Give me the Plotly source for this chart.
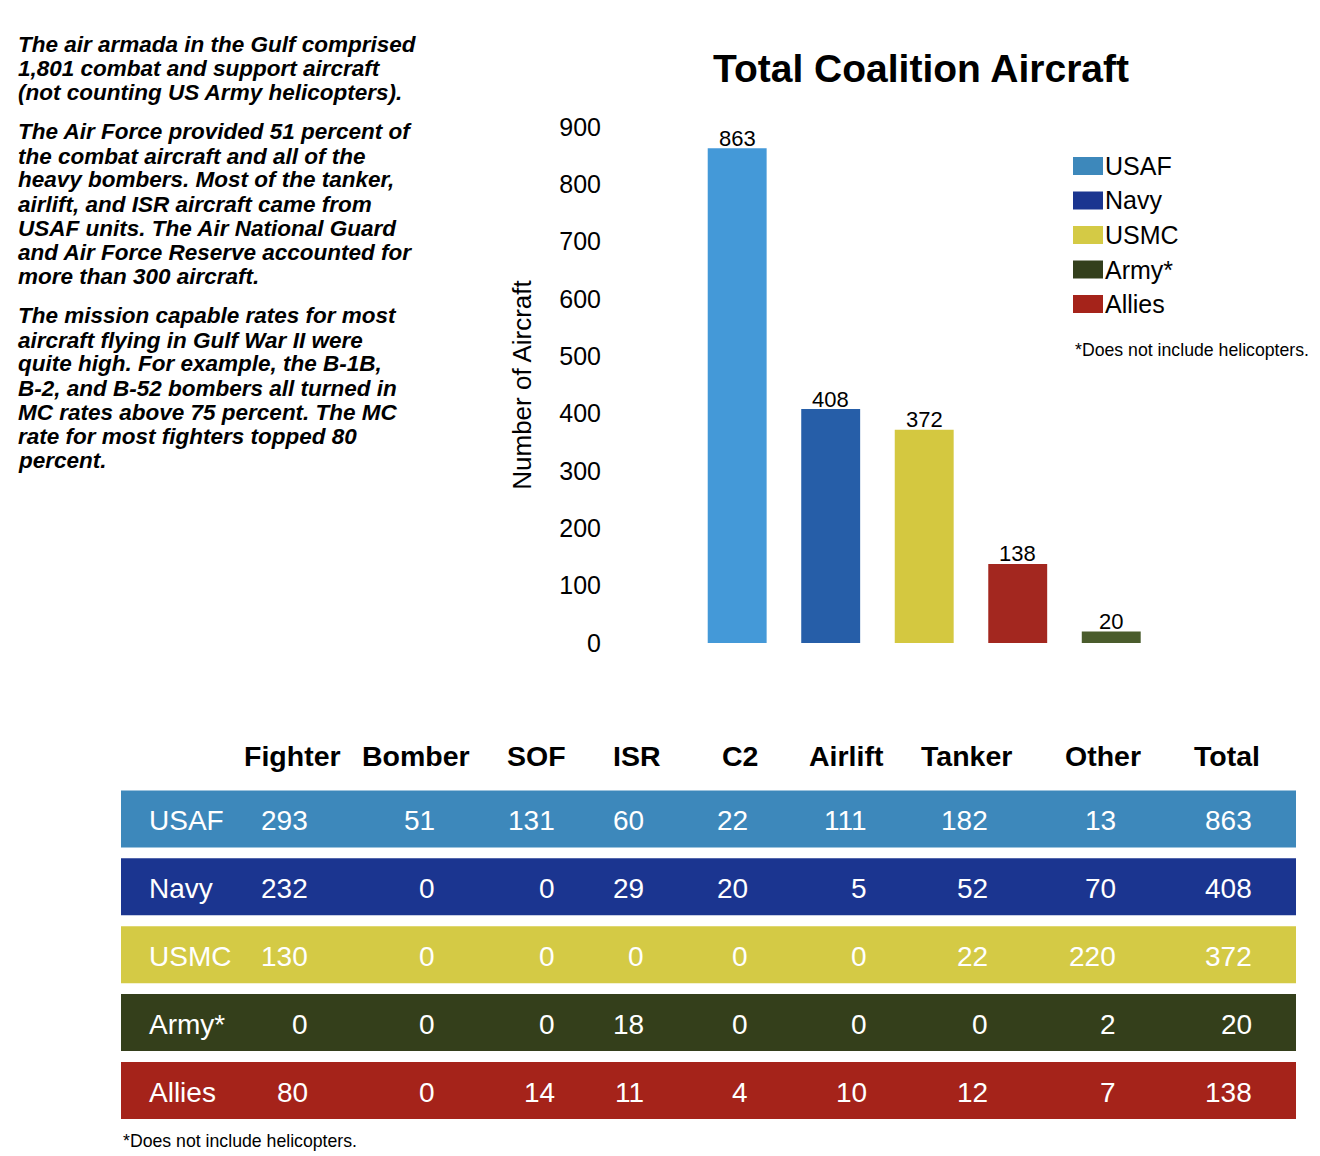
import plotly.graph_objects as go

W, H = 1320, 1156
FONT = "Liberation Sans, Arial, Helvetica, sans-serif"

# ---------------- Data ----------------
bar_services = ["USAF", "Navy", "USMC", "Allies", "Army*"]
bar_totals = [863, 408, 372, 138, 20]
bar_colors = ["#4499d8", "#265ea8", "#d4c840", "#a3271f", "#4a5c2c"]

y_ticks = [0, 100, 200, 300, 400, 500, 600, 700, 800, 900]

legend_labels = ["USAF", "Navy", "USMC", "Army*", "Allies"]
legend_colors = ["#3d88bb", "#1b3590", "#d4ca45", "#333f1c", "#a5231a"]

table_columns = ["Fighter", "Bomber", "SOF", "ISR", "C2", "Airlift", "Tanker", "Other", "Total"]
table_rows = ["USAF", "Navy", "USMC", "Army*", "Allies"]
usaf_counts = [293, 51, 131, 60, 22, 111, 182, 13, 863]
navy_counts = [232, 0, 0, 29, 20, 5, 52, 70, 408]
usmc_counts = [130, 0, 0, 0, 0, 0, 22, 220, 372]
army_counts = [0, 0, 0, 18, 0, 0, 0, 2, 20]
allies_counts = [80, 0, 14, 11, 4, 10, 12, 7, 138]
row_colors = ["#3d88bb", "#1b3590", "#d4ca45", "#343f1b", "#a5231a"]

chart_title = "Total Coalition Aircraft"
y_title = "Number of Aircraft"
footnote = "*Does not include helicopters."

paragraphs = [
    ["The air armada in the Gulf comprised",
     "1,801 combat and support aircraft",
     "(not counting US Army helicopters)."],
    ["The Air Force provided 51 percent of",
     "the combat aircraft and all of the",
     "heavy bombers. Most of the tanker,",
     "airlift, and ISR aircraft came from",
     "USAF units. The Air National Guard",
     "and Air Force Reserve accounted for",
     "more than 300 aircraft."],
    ["The mission capable rates for most",
     "aircraft flying in Gulf War II were",
     "quite high. For example, the B-1B,",
     "B-2, and B-52 bombers all turned in",
     "MC rates above 75 percent. The MC",
     "rate for most fighters topped 80",
     "percent."],
]

# ---------------- Layout helpers ----------------
def px(x):
    return x / W

def py(y):
    return 1 - y / H

table_left, table_right = 121, 1296
tw = table_right - table_left
col_right_px = [309, 436, 556, 645, 749, 868, 989, 1117, 1253]
col_head_px = [292, 416, 536, 637, 740, 846, 966, 1103, 1227]

fig = go.Figure()

# Bar chart
fig.add_trace(go.Bar(
    x=bar_services, y=bar_totals,
    marker=dict(color=bar_colors, line=dict(width=0)),
    cliponaxis=False, showlegend=False, width=0.63,
    xaxis="x", yaxis="y",
))

# Table row backgrounds
fig.add_trace(go.Bar(
    x=[1] * len(table_rows), y=list(range(len(table_rows))), orientation="h",
    marker=dict(color=row_colors, line=dict(width=0)),
    width=0.84, showlegend=False, hoverinfo="skip",
    xaxis="x2", yaxis="y2",
))

fig.update_layout(
    template="none",
    width=W, height=H, autosize=False,
    margin=dict(l=0, r=0, t=0, b=0, pad=0),
    paper_bgcolor="white", plot_bgcolor="white",
    font=dict(family=FONT, color="black"),
    showlegend=False,
    xaxis=dict(domain=[px(610), px(1158)], range=[-1.36, 4.5], showticklabels=False,
               showgrid=False, zeroline=False, showline=False, ticks="", automargin=False,
               categoryorder="array", categoryarray=bar_services),
    yaxis=dict(domain=[py(643), py(127)], range=[0, 900], tickvals=y_ticks,
               showgrid=False, zeroline=False, showline=False, ticks="", automargin=False,
               ticklabelstandoff=8,
               tickfont=dict(size=25, family=FONT, color="black"),
               title=dict(text=y_title, font=dict(size=26, family=FONT, color="black"),
                          standoff=20)),
    xaxis2=dict(domain=[px(table_left), px(table_right)], range=[0, 1], visible=False,
                anchor="y2", automargin=False),
    yaxis2=dict(domain=[py(1124.4), py(785)], range=[4.5, -0.5], visible=False,
                anchor="x2", automargin=False),
    bargap=0.37,
)

ann = []
# Title
ann.append(dict(x=px(921), y=py(69), xref="paper", yref="paper", text=chart_title,
                showarrow=False, xanchor="center", yanchor="middle",
                font=dict(size=39, family=FONT, color="black", weight="bold")))

# Bar value labels (anchored to the bar tops through the axes)
for s, v in zip(bar_services, bar_totals):
    ann.append(dict(x=s, y=v, xref="x", yref="y", text=str(v), showarrow=False,
                    xanchor="center", yanchor="middle", yshift=10,
                    font=dict(size=22, family=FONT, color="black")))

# Left text block
para_tops = [45, 132, 316]
for top, lines in zip(para_tops, paragraphs):
    for i, line in enumerate(lines):
        ann.append(dict(x=px(16), y=py(top + i * 24), xref="paper", yref="paper",
                        text=line, showarrow=False, xanchor="left", yanchor="middle",
                        font=dict(size=22.5, family=FONT, color="black",
                                  weight="bold", style="italic")))

# Legend (custom swatches)
shapes = []
for i, (lab, col) in enumerate(zip(legend_labels, legend_colors)):
    yc = 166 + i * 34.5
    shapes.append(dict(type="rect", xref="paper", yref="paper",
                       x0=px(1073), x1=px(1103), y0=py(yc + 9), y1=py(yc - 9),
                       fillcolor=col, line=dict(width=0)))
    ann.append(dict(x=px(1103), y=py(yc), xref="paper", yref="paper", text=lab,
                    showarrow=False, xanchor="left", yanchor="middle",
                    font=dict(size=25, family=FONT, color="black")))
ann.append(dict(x=px(1073), y=py(350), xref="paper", yref="paper", text=footnote,
                showarrow=False, xanchor="left", yanchor="middle",
                font=dict(size=17.7, family=FONT, color="black")))

# Table header
for name, cx in zip(table_columns, col_head_px):
    ann.append(dict(x=px(cx), y=py(756), xref="paper", yref="paper", text=name,
                    showarrow=False, xanchor="center", yanchor="middle",
                    font=dict(size=28.5, family=FONT, color="black", weight="bold")))

# Table body
all_counts = [usaf_counts, navy_counts, usmc_counts, army_counts, allies_counts]
for r, (label, counts) in enumerate(zip(table_rows, all_counts)):
    ann.append(dict(x=(147 - table_left) / tw, y=r, xref="x2", yref="y2", text=label,
                    showarrow=False, xanchor="left", yanchor="middle", yshift=-2,
                    font=dict(size=28, family=FONT, color="white")))
    for v, rx in zip(counts, col_right_px):
        ann.append(dict(x=(rx + 1 - table_left) / tw, y=r, xref="x2", yref="y2", text=str(v),
                        showarrow=False, xanchor="right", yanchor="middle", yshift=-2,
                        font=dict(size=28, family=FONT, color="white")))

ann.append(dict(x=px(121), y=py(1141), xref="paper", yref="paper", text=footnote,
                showarrow=False, xanchor="left", yanchor="middle",
                font=dict(size=17.7, family=FONT, color="black")))

fig.update_layout(annotations=ann, shapes=shapes)
fig.write_html("out.html")
